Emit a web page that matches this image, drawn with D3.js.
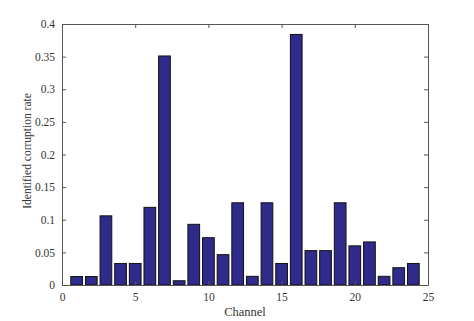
<!DOCTYPE html>
<html>
<head>
<meta charset="utf-8">
<script src="https://cdn.jsdelivr.net/npm/d3@7"></script>
<style>
  body { margin: 0; background: #fff; }
  svg, svg text { font-family: "Liberation Serif", "Times New Roman", serif; }
  .axis path, .axis line { stroke: #555; }
  .axis text { fill: #333; font-size: 11.5px; font-family: "Liberation Serif", serif; }
  .bar { fill: #2e2b8a; stroke: #111; stroke-width: 1; }
</style>
</head>
<body>
<svg id="chart" width="474" height="321"></svg>
<script>
// 数据
const channels = d3.range(1, 25);
const rates = [0.013, 0.013, 0.106, 0.033, 0.033, 0.119, 0.351, 0.0065,
               0.093, 0.0725, 0.0465, 0.126, 0.0133, 0.126, 0.033, 0.384,
               0.0527, 0.0527, 0.126, 0.06, 0.066, 0.0133, 0.0265, 0.033];
const xTicks = [0, 5, 10, 15, 20, 25];
const yTicks = [0, 0.05, 0.1, 0.15, 0.2, 0.25, 0.3, 0.35, 0.4];

const margin = { top: 24, right: 46, bottom: 36, left: 62 };
const svg = d3.select('#chart'),
      width  = +svg.attr('width')  - margin.left - margin.right,
      height = +svg.attr('height') - margin.top  - margin.bottom;
const g = svg.append('g')
  .attr('transform', `translate(${margin.left},${margin.top})`);

const x = d3.scaleLinear().domain([0, 25]).range([0, width]);
const y = d3.scaleLinear().domain([0, 0.4]).range([height, 0]);
const barW = x(0.8) - x(0);

// bars
g.selectAll('.bar')
  .data(channels)
  .join('rect')
    .attr('class', 'bar')
    .attr('x', (d, i) => x(d) - barW / 2)
    .attr('y', (d, i) => y(rates[i]))
    .attr('width', barW)
    .attr('height', (d, i) => y(0) - y(rates[i]));

// axes (box on, ticks inward)
const tickLen = 4;
g.append('g').attr('class', 'axis')
  .attr('transform', `translate(0,${height})`)
  .call(d3.axisBottom(x).tickValues(xTicks).tickSizeInner(-tickLen).tickSizeOuter(0)
        .tickPadding(8).tickFormat(d3.format('d')));
g.append('g').attr('class', 'axis')
  .call(d3.axisTop(x).tickValues(xTicks).tickSizeInner(-tickLen).tickSizeOuter(0)
        .tickFormat(''));
g.append('g').attr('class', 'axis')
  .call(d3.axisLeft(y).tickValues(yTicks).tickSizeInner(-tickLen).tickSizeOuter(0)
        .tickPadding(7).tickFormat(d => String(+d.toFixed(2))));
g.append('g').attr('class', 'axis')
  .attr('transform', `translate(${width},0)`)
  .call(d3.axisRight(y).tickValues(yTicks).tickSizeInner(-tickLen).tickSizeOuter(0)
        .tickFormat(''));
g.selectAll('.axis').attr('font-family', null).attr('font-size', null);

// labels
svg.append('text')
  .attr('x', margin.left + width / 2)
  .attr('y', 315.5)
  .attr('text-anchor', 'middle')
  .attr('font-size', '12.5px')
  .attr('fill', '#333')
  .text('Channel');
svg.append('text')
  .attr('transform', `translate(31,151) rotate(-90)`)
  .attr('text-anchor', 'middle')
  .attr('font-size', '11.5px')
  .attr('fill', '#333')
  .text('Identified corruption rate');
</script>
</body>
</html>
